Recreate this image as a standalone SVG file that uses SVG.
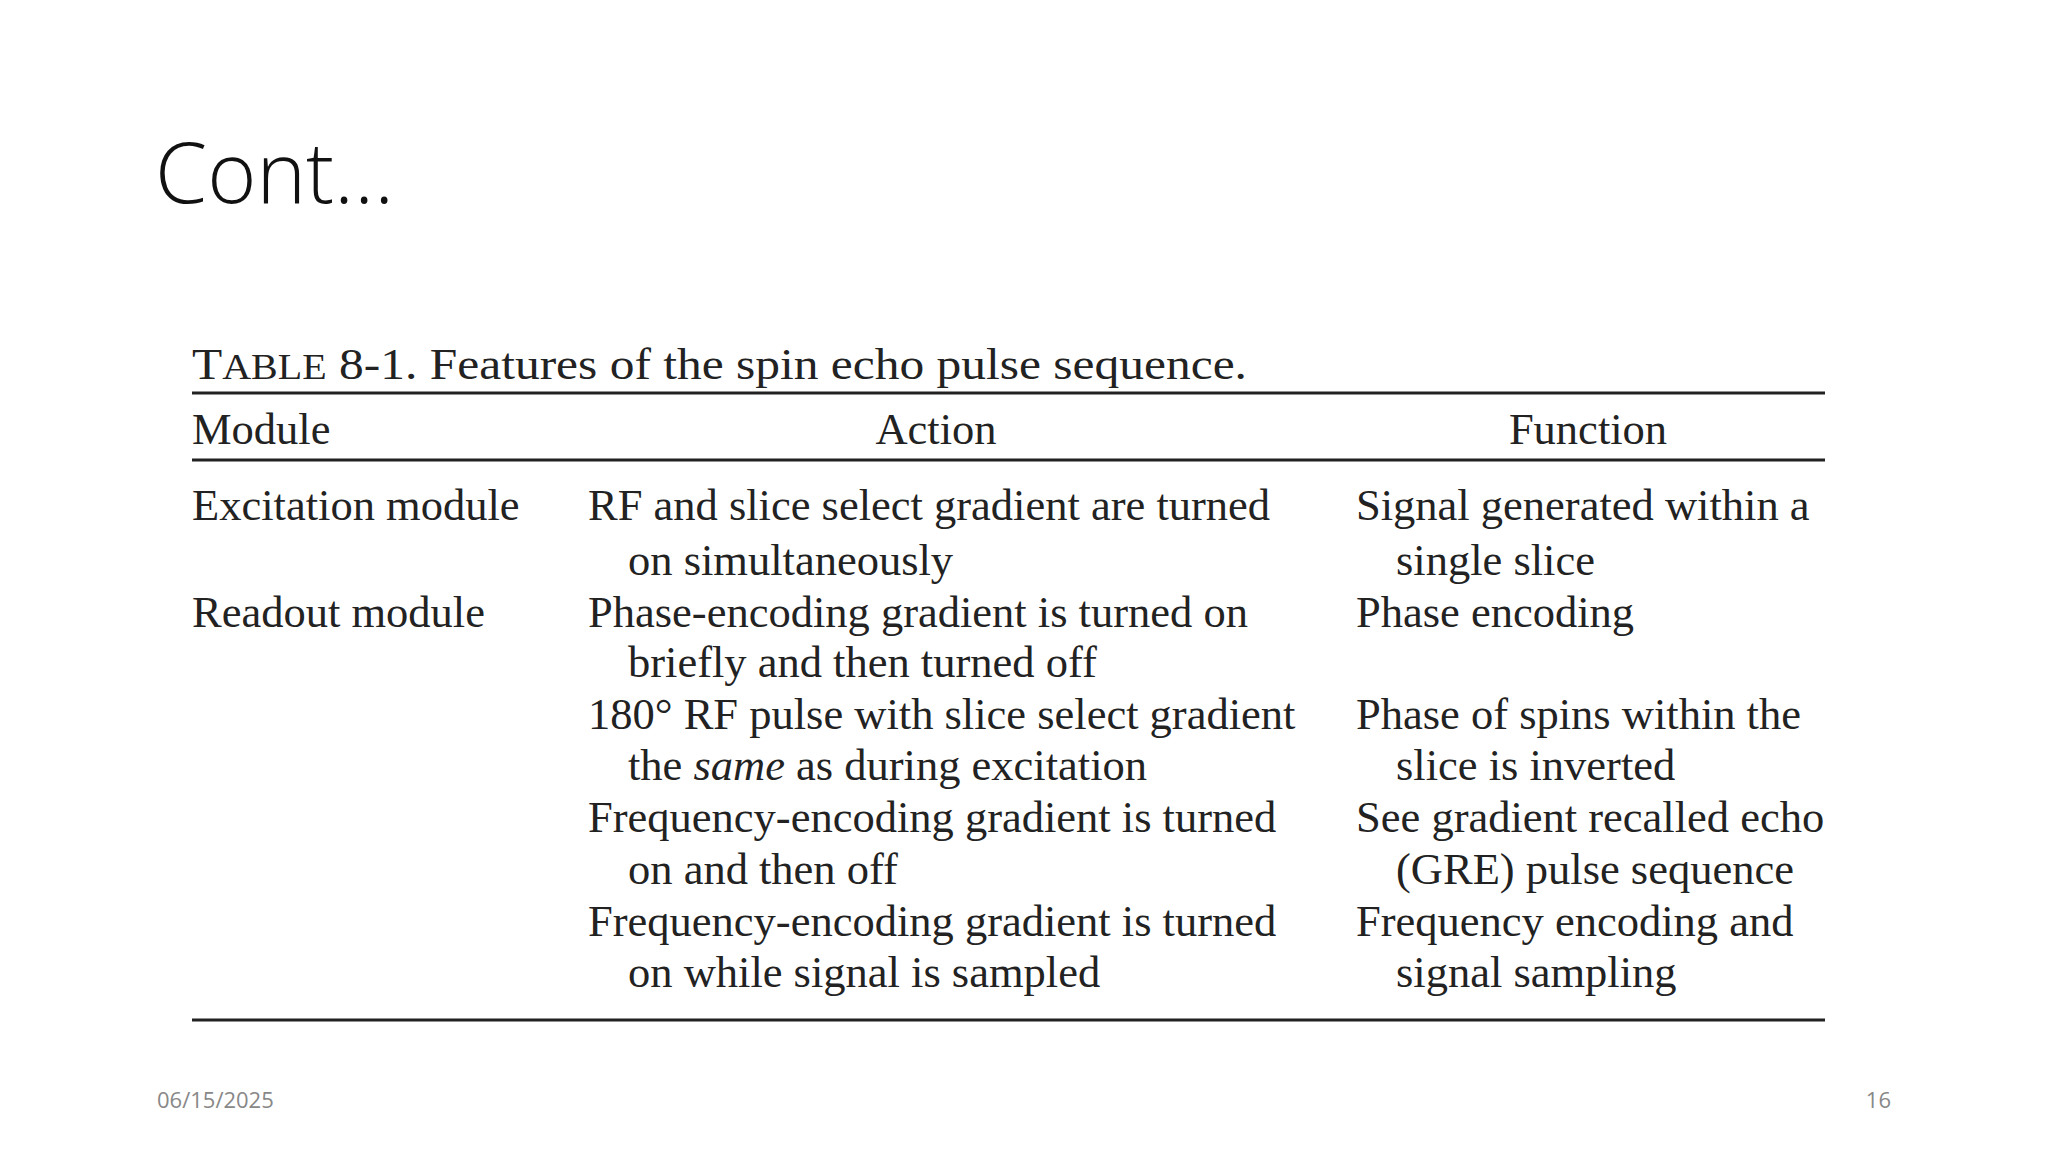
<svg xmlns="http://www.w3.org/2000/svg" width="2048" height="1152" viewBox="0 0 2048 1152">
<style>
.t{font-family:"Liberation Serif",serif;font-size:44.5px;fill:#222}
.f{font-family:"Open Sans","Noto Sans",sans-serif;font-size:22px;fill:#888}
</style>
<rect width="2048" height="1152" fill="#fff"/>
<text x="155" y="203" font-family="Open Sans,Noto Sans,sans-serif" font-size="84" font-weight="300" fill="#111">Cont…</text>
<g id="table">
<text class="t" x="192" y="379" font-size="46" textLength="1055" lengthAdjust="spacingAndGlyphs">T<tspan font-size="36">ABLE</tspan> 8-1.  Features of the spin echo pulse sequence.</text>
<line x1="192" y1="393" x2="1825" y2="393" stroke="#222" stroke-width="3"/>
<text class="t" x="192" y="444">Module</text>
<text class="t" x="936" y="444" text-anchor="middle">Action</text>
<text class="t" x="1588" y="444" text-anchor="middle">Function</text>
<line x1="192" y1="460" x2="1825" y2="460" stroke="#222" stroke-width="3"/>
<text class="t" x="192" y="520">Excitation module</text>
<text class="t" x="588" y="520">RF and slice select gradient are turned</text>
<text class="t" x="628" y="575">on simultaneously</text>
<text class="t" x="1356" y="520">Signal generated within a</text>
<text class="t" x="1396" y="575">single slice</text>
<text class="t" x="192" y="627">Readout module</text>
<text class="t" x="588" y="627">Phase-encoding gradient is turned on</text>
<text class="t" x="628" y="677">briefly and then turned off</text>
<text class="t" x="1356" y="627">Phase encoding</text>
<text class="t" x="588" y="729">180° RF pulse with slice select gradient</text>
<text class="t" x="628" y="780">the <tspan font-style="italic">same</tspan> as during excitation</text>
<text class="t" x="1356" y="729">Phase of spins within the</text>
<text class="t" x="1396" y="780">slice is inverted</text>
<text class="t" x="588" y="832">Frequency-encoding gradient is turned</text>
<text class="t" x="628" y="884">on and then off</text>
<text class="t" x="1356" y="832">See gradient recalled echo</text>
<text class="t" x="1396" y="884">(GRE) pulse sequence</text>
<text class="t" x="588" y="936">Frequency-encoding gradient is turned</text>
<text class="t" x="628" y="987">on while signal is sampled</text>
<text class="t" x="1356" y="936">Frequency encoding and</text>
<text class="t" x="1396" y="987">signal sampling</text>
<line x1="192" y1="1020" x2="1825" y2="1020" stroke="#222" stroke-width="3"/>
</g>
<text class="f" x="157" y="1108">06/15/2025</text>
<text class="f" x="1891" y="1108" text-anchor="end">16</text>
</svg>
